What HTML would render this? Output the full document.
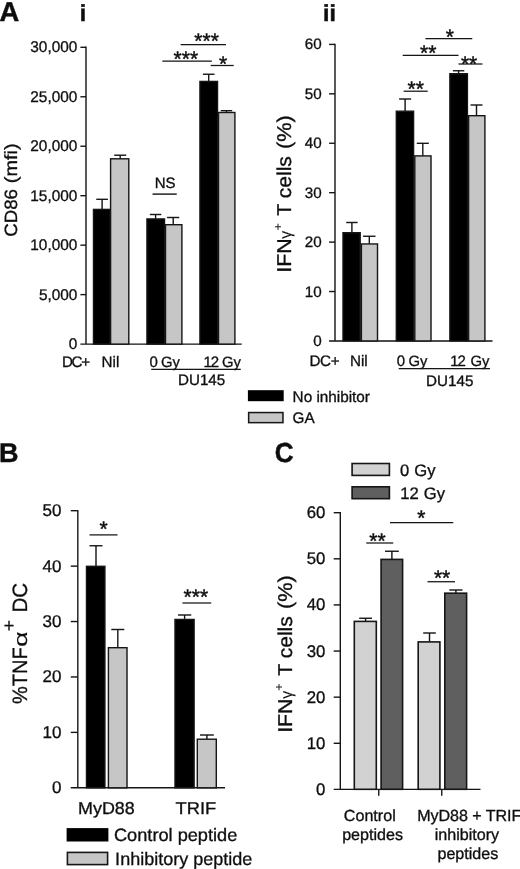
<!DOCTYPE html>
<html lang="en">
<head>
<meta charset="utf-8">
<title>Figure: CD86, IFN&gamma;+ T cells, TNF&alpha;+ DC bar charts</title>
<style>
html,body{margin:0;padding:0;background:#fff;}
body{width:520px;height:869px;overflow:hidden;}
svg{display:block;}
svg text{font-family:"Liberation Sans", sans-serif;fill:#111;stroke:#111;stroke-width:0.33px;font-variant-ligatures:none;font-kerning:none;}
svg text[font-weight=bold]{stroke-width:0.5px;}
</style>
</head>
<body>
<svg width="520" height="869" viewBox="0 0 520 869" shape-rendering="geometricPrecision" text-rendering="geometricPrecision">
<defs><filter id="soft" x="0" y="0" width="520" height="869" filterUnits="userSpaceOnUse"><feGaussianBlur stdDeviation="0.32"/></filter></defs>
<rect x="0" y="0" width="520" height="869" fill="#fff"/>
<g filter="url(#soft)">
<text x="-0.6" y="20.5" font-size="27.3" font-weight="bold">A</text>
<text x="79.8" y="20.7" font-size="23" font-weight="bold">i</text>
<text x="323" y="20.8" font-size="23" font-weight="bold">ii</text>
<text x="-0.95" y="461.5" font-size="27" font-weight="bold">B</text>
<text x="274.75" y="462.1" font-size="27.5" font-weight="bold" textLength="18.87" lengthAdjust="spacingAndGlyphs">C</text>
<line x1="86" y1="46.6" x2="86" y2="344.1" stroke="#141414" stroke-width="1.4"/>
<line x1="80.4" y1="344.1" x2="241.75" y2="344.1" stroke="#141414" stroke-width="1.4"/>
<text x="77.4" y="349" font-size="15.4" text-anchor="end">0</text>
<line x1="80.4" y1="294.63" x2="86" y2="294.63" stroke="#141414" stroke-width="1.4"/>
<text x="77.4" y="299.53" font-size="15.4" text-anchor="end">5,000</text>
<line x1="80.4" y1="245.17" x2="86" y2="245.17" stroke="#141414" stroke-width="1.4"/>
<text x="77.4" y="250.07" font-size="15.4" text-anchor="end">10,000</text>
<line x1="80.4" y1="195.7" x2="86" y2="195.7" stroke="#141414" stroke-width="1.4"/>
<text x="77.4" y="200.6" font-size="15.4" text-anchor="end">15,000</text>
<line x1="80.4" y1="146.23" x2="86" y2="146.23" stroke="#141414" stroke-width="1.4"/>
<text x="77.4" y="151.13" font-size="15.4" text-anchor="end">20,000</text>
<line x1="80.4" y1="96.77" x2="86" y2="96.77" stroke="#141414" stroke-width="1.4"/>
<text x="77.4" y="101.67" font-size="15.4" text-anchor="end">25,000</text>
<line x1="80.4" y1="47.3" x2="86" y2="47.3" stroke="#141414" stroke-width="1.4"/>
<text x="77.4" y="52.2" font-size="15.4" text-anchor="end">30,000</text>
<rect x="93.5" y="209.4" width="16.6" height="134.7" fill="#000" stroke="#141414" stroke-width="1.4"/>
<line x1="102.1" y1="209.2" x2="102.1" y2="199.3" stroke="#141414" stroke-width="1.4"/>
<line x1="96.3" y1="199.3" x2="107.9" y2="199.3" stroke="#141414" stroke-width="1.4"/>
<rect x="110.6" y="158.8" width="18.2" height="185.3" fill="#c6c6c6" stroke="#141414" stroke-width="1.4"/>
<line x1="120.2" y1="158.6" x2="120.2" y2="155.2" stroke="#141414" stroke-width="1.4"/>
<line x1="114.2" y1="155.2" x2="126.2" y2="155.2" stroke="#141414" stroke-width="1.4"/>
<rect x="146.95" y="218.95" width="17.55" height="125.15" fill="#000" stroke="#141414" stroke-width="1.4"/>
<line x1="155.6" y1="218.75" x2="155.6" y2="214.5" stroke="#141414" stroke-width="1.4"/>
<line x1="149.9" y1="214.5" x2="161.3" y2="214.5" stroke="#141414" stroke-width="1.4"/>
<rect x="165.5" y="224.7" width="16.4" height="119.4" fill="#c6c6c6" stroke="#141414" stroke-width="1.4"/>
<line x1="173.2" y1="224.5" x2="173.2" y2="217.5" stroke="#141414" stroke-width="1.4"/>
<line x1="167.1" y1="217.5" x2="179.3" y2="217.5" stroke="#141414" stroke-width="1.4"/>
<rect x="199.95" y="81.45" width="17.55" height="262.65" fill="#000" stroke="#141414" stroke-width="1.4"/>
<line x1="208.7" y1="81.25" x2="208.7" y2="74.25" stroke="#141414" stroke-width="1.4"/>
<line x1="202.9" y1="74.25" x2="214.5" y2="74.25" stroke="#141414" stroke-width="1.4"/>
<rect x="218.5" y="112.5" width="16.4" height="231.6" fill="#c6c6c6" stroke="#141414" stroke-width="1.4"/>
<line x1="226.5" y1="112.3" x2="226.5" y2="110.7" stroke="#141414" stroke-width="1.4"/>
<line x1="220.8" y1="110.7" x2="232.2" y2="110.7" stroke="#141414" stroke-width="1.4"/>
<line x1="180.6" y1="44.6" x2="226" y2="44.6" stroke="#141414" stroke-width="1.25"/>
<text x="206.6" y="48.46" font-size="21" text-anchor="middle" style="stroke-width:0.45px">***</text>
<line x1="162.3" y1="61" x2="211.8" y2="61" stroke="#141414" stroke-width="1.25"/>
<text x="185.8" y="65.76" font-size="21" text-anchor="middle" style="stroke-width:0.45px">***</text>
<line x1="210.7" y1="65.5" x2="233.7" y2="65.5" stroke="#141414" stroke-width="1.25"/>
<text x="223.1" y="71.06" font-size="21" text-anchor="middle" style="stroke-width:0.45px">*</text>
<text x="165.2" y="188.3" font-size="15" text-anchor="middle">NS</text>
<line x1="152.5" y1="194.1" x2="176.75" y2="194.1" stroke="#141414" stroke-width="1.4"/>
<text x="62" y="367" font-size="15.2" textLength="28" lengthAdjust="spacing">DC+</text>
<text x="101.6" y="367" font-size="15.2">Nil</text>
<text x="149.6" y="367" font-size="15">0</text>
<text x="160.9" y="367" font-size="14.8">Gy</text>
<text x="203.4" y="367" font-size="15" textLength="15.6" lengthAdjust="spacing">12</text>
<text x="222" y="367" font-size="14.8">Gy</text>
<line x1="151.25" y1="369.4" x2="240.75" y2="369.4" stroke="#141414" stroke-width="1.4"/>
<text x="201.6" y="384.6" font-size="15.2" text-anchor="middle">DU145</text>
<text x="17.3" y="236.75" font-size="17.8" textLength="47.77" lengthAdjust="spacingAndGlyphs" transform="rotate(-90 17.3 236.75)">CD86</text>
<text x="17.3" y="183.13" font-size="17.8" textLength="39.77" lengthAdjust="spacingAndGlyphs" transform="rotate(-90 17.3 183.13)">(mfi)</text>
<line x1="335" y1="43.7" x2="335" y2="340.95" stroke="#141414" stroke-width="1.4"/>
<line x1="329.1" y1="340.95" x2="492.5" y2="340.95" stroke="#141414" stroke-width="1.4"/>
<text x="321.6" y="345.95" font-size="15.2" text-anchor="end">0</text>
<line x1="329.1" y1="291.52" x2="335" y2="291.52" stroke="#141414" stroke-width="1.4"/>
<text x="321.6" y="296.52" font-size="15.2" text-anchor="end">10</text>
<line x1="329.1" y1="242.1" x2="335" y2="242.1" stroke="#141414" stroke-width="1.4"/>
<text x="321.6" y="247.1" font-size="15.2" text-anchor="end">20</text>
<line x1="329.1" y1="192.67" x2="335" y2="192.67" stroke="#141414" stroke-width="1.4"/>
<text x="321.6" y="197.67" font-size="15.2" text-anchor="end">30</text>
<line x1="329.1" y1="143.25" x2="335" y2="143.25" stroke="#141414" stroke-width="1.4"/>
<text x="321.6" y="148.25" font-size="15.2" text-anchor="end">40</text>
<line x1="329.1" y1="93.82" x2="335" y2="93.82" stroke="#141414" stroke-width="1.4"/>
<text x="321.6" y="98.82" font-size="15.2" text-anchor="end">50</text>
<line x1="329.1" y1="44.4" x2="335" y2="44.4" stroke="#141414" stroke-width="1.4"/>
<text x="321.6" y="49.4" font-size="15.2" text-anchor="end">60</text>
<rect x="343" y="232.7" width="17.2" height="108.25" fill="#000" stroke="#141414" stroke-width="1.4"/>
<line x1="351.9" y1="232.5" x2="351.9" y2="222.5" stroke="#141414" stroke-width="1.4"/>
<line x1="346.2" y1="222.5" x2="357.6" y2="222.5" stroke="#141414" stroke-width="1.4"/>
<rect x="361.4" y="243.95" width="16.1" height="97" fill="#c6c6c6" stroke="#141414" stroke-width="1.4"/>
<line x1="369.3" y1="243.75" x2="369.3" y2="236.25" stroke="#141414" stroke-width="1.4"/>
<line x1="363.1" y1="236.25" x2="375.5" y2="236.25" stroke="#141414" stroke-width="1.4"/>
<rect x="396.3" y="111.2" width="17.3" height="229.75" fill="#000" stroke="#141414" stroke-width="1.4"/>
<line x1="405.1" y1="111" x2="405.1" y2="99" stroke="#141414" stroke-width="1.4"/>
<line x1="399.1" y1="99" x2="411.1" y2="99" stroke="#141414" stroke-width="1.4"/>
<rect x="414.8" y="155.9" width="16.2" height="185.05" fill="#c6c6c6" stroke="#141414" stroke-width="1.4"/>
<line x1="422.8" y1="155.7" x2="422.8" y2="143.3" stroke="#141414" stroke-width="1.4"/>
<line x1="416.8" y1="143.3" x2="428.8" y2="143.3" stroke="#141414" stroke-width="1.4"/>
<rect x="449.9" y="73.7" width="17.5" height="267.25" fill="#000" stroke="#141414" stroke-width="1.4"/>
<line x1="458.6" y1="73.5" x2="458.6" y2="70.75" stroke="#141414" stroke-width="1.4"/>
<line x1="452.9" y1="70.75" x2="464.3" y2="70.75" stroke="#141414" stroke-width="1.4"/>
<rect x="468.6" y="115.7" width="16.3" height="225.25" fill="#c6c6c6" stroke="#141414" stroke-width="1.4"/>
<line x1="476.5" y1="115.5" x2="476.5" y2="105" stroke="#141414" stroke-width="1.4"/>
<line x1="470.5" y1="105" x2="482.5" y2="105" stroke="#141414" stroke-width="1.4"/>
<line x1="425.4" y1="38.65" x2="472.3" y2="38.65" stroke="#141414" stroke-width="1.25"/>
<text x="449.8" y="43.66" font-size="21" text-anchor="middle" style="stroke-width:0.45px">*</text>
<line x1="402.7" y1="55.4" x2="458.5" y2="55.4" stroke="#141414" stroke-width="1.25"/>
<text x="428.2" y="59.56" font-size="21" text-anchor="middle" style="stroke-width:0.45px">**</text>
<line x1="458.5" y1="64" x2="482.5" y2="64" stroke="#141414" stroke-width="1.25"/>
<text x="469.1" y="70.96" font-size="21" text-anchor="middle" style="stroke-width:0.45px">**</text>
<line x1="403.7" y1="91.2" x2="427.7" y2="91.2" stroke="#141414" stroke-width="1.25"/>
<text x="415.7" y="96.16" font-size="21" text-anchor="middle" style="stroke-width:0.45px">**</text>
<text x="309.5" y="366.3" font-size="15.2" textLength="30" lengthAdjust="spacing">DC+</text>
<text x="350" y="366.3" font-size="15.2">Nil</text>
<text x="396.7" y="366.3" font-size="15">0</text>
<text x="408.6" y="366.3" font-size="14.8">Gy</text>
<text x="450.2" y="366.3" font-size="15" textLength="15.6" lengthAdjust="spacing">12</text>
<text x="470.6" y="366.3" font-size="14.8">Gy</text>
<line x1="398.75" y1="368.6" x2="490" y2="368.6" stroke="#141414" stroke-width="1.4"/>
<text x="449.7" y="385.7" font-size="15.2" text-anchor="middle">DU145</text>
<text x="290.8" y="272.77" font-size="20" textLength="34.3" lengthAdjust="spacingAndGlyphs" transform="rotate(-90 290.8 272.77)">IFN</text>
<text x="290.8" y="238.75" font-size="16.5" textLength="7.91" lengthAdjust="spacingAndGlyphs" transform="rotate(-90 290.8 238.75)" style="stroke-width:0.1px">γ</text>
<text x="282.2" y="230.52" font-size="12" textLength="7.45" lengthAdjust="spacingAndGlyphs" transform="rotate(-90 282.2 230.52)" style="stroke-width:0.1px">+</text>
<text x="290.8" y="215.64" font-size="20" textLength="11.99" lengthAdjust="spacingAndGlyphs" transform="rotate(-90 290.8 215.64)">T</text>
<text x="290.8" y="198.19" font-size="20" textLength="42.05" lengthAdjust="spacingAndGlyphs" transform="rotate(-90 290.8 198.19)">cells</text>
<text x="290.8" y="148.95" font-size="20" textLength="33.8" lengthAdjust="spacingAndGlyphs" transform="rotate(-90 290.8 148.95)">(%)</text>
<rect x="247.9" y="390.2" width="35.8" height="11" fill="#000"/>
<rect x="248.65" y="412.55" width="34.3" height="10.1" fill="#c6c6c6" stroke="#141414" stroke-width="1.5"/>
<text x="292.6" y="401.5" font-size="15.3">No inhibitor</text>
<text x="292.6" y="422.7" font-size="15.3">GA</text>
<line x1="77.8" y1="510" x2="77.8" y2="787.8" stroke="#141414" stroke-width="1.4"/>
<line x1="70.8" y1="787.8" x2="225" y2="787.8" stroke="#141414" stroke-width="1.4"/>
<text x="61.4" y="793.2" font-size="17" text-anchor="end">0</text>
<line x1="70.8" y1="732.38" x2="77.8" y2="732.38" stroke="#141414" stroke-width="1.4"/>
<text x="61.4" y="737.78" font-size="17" text-anchor="end">10</text>
<line x1="70.8" y1="676.96" x2="77.8" y2="676.96" stroke="#141414" stroke-width="1.4"/>
<text x="61.4" y="682.36" font-size="17" text-anchor="end">20</text>
<line x1="70.8" y1="621.54" x2="77.8" y2="621.54" stroke="#141414" stroke-width="1.4"/>
<text x="61.4" y="626.94" font-size="17" text-anchor="end">30</text>
<line x1="70.8" y1="566.12" x2="77.8" y2="566.12" stroke="#141414" stroke-width="1.4"/>
<text x="61.4" y="571.52" font-size="17" text-anchor="end">40</text>
<line x1="70.8" y1="510.7" x2="77.8" y2="510.7" stroke="#141414" stroke-width="1.4"/>
<text x="61.4" y="516.1" font-size="17" text-anchor="end">50</text>
<rect x="86.5" y="566.3" width="18.4" height="221.5" fill="#000" stroke="#141414" stroke-width="1.4"/>
<line x1="96" y1="566.1" x2="96" y2="545.75" stroke="#141414" stroke-width="1.4"/>
<line x1="89.5" y1="545.75" x2="102.5" y2="545.75" stroke="#141414" stroke-width="1.4"/>
<rect x="108.4" y="647.7" width="18.6" height="140.1" fill="#c6c6c6" stroke="#141414" stroke-width="1.4"/>
<line x1="117.8" y1="647.5" x2="117.8" y2="629.5" stroke="#141414" stroke-width="1.4"/>
<line x1="111.3" y1="629.5" x2="124.3" y2="629.5" stroke="#141414" stroke-width="1.4"/>
<rect x="175" y="619.45" width="19.1" height="168.35" fill="#000" stroke="#141414" stroke-width="1.4"/>
<line x1="184.6" y1="619.25" x2="184.6" y2="615" stroke="#141414" stroke-width="1.4"/>
<line x1="178" y1="615" x2="191.2" y2="615" stroke="#141414" stroke-width="1.4"/>
<rect x="197.3" y="739.2" width="19" height="48.6" fill="#c6c6c6" stroke="#141414" stroke-width="1.4"/>
<line x1="206.9" y1="739" x2="206.9" y2="735" stroke="#141414" stroke-width="1.4"/>
<line x1="200" y1="735" x2="213.8" y2="735" stroke="#141414" stroke-width="1.4"/>
<line x1="89.5" y1="534.9" x2="117.5" y2="534.9" stroke="#141414" stroke-width="1.25"/>
<text x="103.5" y="536.26" font-size="21" text-anchor="middle" style="stroke-width:0.45px">*</text>
<line x1="182.4" y1="603" x2="211.2" y2="603" stroke="#141414" stroke-width="1.25"/>
<text x="195.8" y="604.06" font-size="21" text-anchor="middle" style="stroke-width:0.45px">***</text>
<text x="78.03" y="814.3" font-size="17.2" textLength="56.75" lengthAdjust="spacingAndGlyphs">MyD88</text>
<text x="175.59" y="814.3" font-size="17.2" textLength="40.64" lengthAdjust="spacingAndGlyphs">TRIF</text>
<text x="26.9" y="704.01" font-size="20.8" textLength="56.72" lengthAdjust="spacingAndGlyphs" transform="rotate(-90 26.9 704.01)">%TNF</text>
<text x="26.9" y="646.94" font-size="18.6" textLength="15.73" lengthAdjust="spacingAndGlyphs" transform="rotate(-90 26.9 646.94)" style="stroke-width:0.1px">α</text>
<text x="14.6" y="631.14" font-size="18" textLength="11.3" lengthAdjust="spacingAndGlyphs" transform="rotate(-90 14.6 631.14)" style="stroke-width:0.3px">+</text>
<text x="26.9" y="612.48" font-size="20.8" textLength="29.67" lengthAdjust="spacingAndGlyphs" transform="rotate(-90 26.9 612.48)">DC</text>
<rect x="66.6" y="828.1" width="41.8" height="13.4" fill="#000"/>
<rect x="67.4" y="852.4" width="40.2" height="12.2" fill="#c6c6c6" stroke="#141414" stroke-width="1.6"/>
<text x="113.98" y="841.3" font-size="17.9" textLength="123.33" lengthAdjust="spacingAndGlyphs">Control peptide</text>
<text x="115.14" y="864.8" font-size="17.9" textLength="137.16" lengthAdjust="spacingAndGlyphs">Inhibitory peptide</text>
<line x1="340.3" y1="512" x2="340.3" y2="789.4" stroke="#141414" stroke-width="1.4"/>
<line x1="333.7" y1="789.4" x2="480.5" y2="789.4" stroke="#141414" stroke-width="1.4"/>
<text x="325.4" y="794.9" font-size="16.8" text-anchor="end">0</text>
<line x1="333.7" y1="743.28" x2="340.3" y2="743.28" stroke="#141414" stroke-width="1.4"/>
<text x="325.4" y="748.78" font-size="16.8" text-anchor="end">10</text>
<line x1="333.7" y1="697.17" x2="340.3" y2="697.17" stroke="#141414" stroke-width="1.4"/>
<text x="325.4" y="702.67" font-size="16.8" text-anchor="end">20</text>
<line x1="333.7" y1="651.05" x2="340.3" y2="651.05" stroke="#141414" stroke-width="1.4"/>
<text x="325.4" y="656.55" font-size="16.8" text-anchor="end">30</text>
<line x1="333.7" y1="604.93" x2="340.3" y2="604.93" stroke="#141414" stroke-width="1.4"/>
<text x="325.4" y="610.43" font-size="16.8" text-anchor="end">40</text>
<line x1="333.7" y1="558.82" x2="340.3" y2="558.82" stroke="#141414" stroke-width="1.4"/>
<text x="325.4" y="564.32" font-size="16.8" text-anchor="end">50</text>
<line x1="333.7" y1="512.7" x2="340.3" y2="512.7" stroke="#141414" stroke-width="1.4"/>
<text x="325.4" y="518.2" font-size="16.8" text-anchor="end">60</text>
<line x1="378.75" y1="789.4" x2="378.75" y2="795.7" stroke="#141414" stroke-width="1.4"/>
<line x1="441.75" y1="789.4" x2="441.75" y2="795.7" stroke="#141414" stroke-width="1.4"/>
<rect x="354.3" y="621.4" width="22" height="167.9" fill="#d2d2d2" stroke="#141414" stroke-width="1.6"/>
<line x1="365.6" y1="621.25" x2="365.6" y2="618.25" stroke="#141414" stroke-width="1.4"/>
<line x1="359.2" y1="618.25" x2="372" y2="618.25" stroke="#141414" stroke-width="1.4"/>
<rect x="381.1" y="559.4" width="21.5" height="229.9" fill="#5e5e5e" stroke="#141414" stroke-width="1.6"/>
<line x1="391.9" y1="559.25" x2="391.9" y2="551.25" stroke="#141414" stroke-width="1.4"/>
<line x1="385" y1="551.25" x2="398.8" y2="551.25" stroke="#141414" stroke-width="1.4"/>
<rect x="418.2" y="641.9" width="21.7" height="147.4" fill="#d2d2d2" stroke="#141414" stroke-width="1.6"/>
<line x1="429.5" y1="641.75" x2="429.5" y2="633" stroke="#141414" stroke-width="1.4"/>
<line x1="423.2" y1="633" x2="435.8" y2="633" stroke="#141414" stroke-width="1.4"/>
<rect x="444.8" y="593.2" width="21.8" height="196.1" fill="#5e5e5e" stroke="#141414" stroke-width="1.6"/>
<line x1="455.9" y1="593" x2="455.9" y2="590" stroke="#141414" stroke-width="1.4"/>
<line x1="449.3" y1="590" x2="462.5" y2="590" stroke="#141414" stroke-width="1.4"/>
<line x1="390" y1="522.5" x2="453.25" y2="522.5" stroke="#141414" stroke-width="1.25"/>
<text x="421.25" y="524.51" font-size="21" text-anchor="middle" style="stroke-width:0.45px">*</text>
<line x1="366.25" y1="543" x2="393.25" y2="543" stroke="#141414" stroke-width="1.25"/>
<text x="377.5" y="547.86" font-size="21" text-anchor="middle" style="stroke-width:0.45px">**</text>
<line x1="427.5" y1="581.75" x2="455" y2="581.75" stroke="#141414" stroke-width="1.25"/>
<text x="442.1" y="584.76" font-size="21" text-anchor="middle" style="stroke-width:0.45px">**</text>
<rect x="352.1" y="463.5" width="37.3" height="11.9" fill="#d2d2d2" stroke="#141414" stroke-width="1.6"/>
<rect x="352.1" y="486.8" width="37.3" height="11.9" fill="#5e5e5e" stroke="#141414" stroke-width="1.6"/>
<text x="400" y="475.6" font-size="16.6" textLength="35.5" lengthAdjust="spacing">0 Gy</text>
<text x="400.2" y="498.8" font-size="16.6" textLength="44.8" lengthAdjust="spacing">12 Gy</text>
<text x="369.8" y="820.5" font-size="16.1" text-anchor="middle">Control</text>
<text x="372.6" y="840" font-size="16.1" text-anchor="middle">peptides</text>
<text x="417.3" y="820.5" font-size="16.1" textLength="104" lengthAdjust="spacing">MyD88 + TRIF</text>
<text x="466.9" y="840" font-size="16.1" text-anchor="middle">inhibitory</text>
<text x="467.9" y="859.3" font-size="16.1" text-anchor="middle">peptides</text>
<text x="291.8" y="732.87" font-size="20" textLength="34.3" lengthAdjust="spacingAndGlyphs" transform="rotate(-90 291.8 732.87)">IFN</text>
<text x="291.8" y="698.85" font-size="16.5" textLength="7.91" lengthAdjust="spacingAndGlyphs" transform="rotate(-90 291.8 698.85)" style="stroke-width:0.1px">γ</text>
<text x="283.2" y="690.62" font-size="12" textLength="7.45" lengthAdjust="spacingAndGlyphs" transform="rotate(-90 283.2 690.62)" style="stroke-width:0.1px">+</text>
<text x="291.8" y="675.74" font-size="20" textLength="11.99" lengthAdjust="spacingAndGlyphs" transform="rotate(-90 291.8 675.74)">T</text>
<text x="291.8" y="658.29" font-size="20" textLength="42.05" lengthAdjust="spacingAndGlyphs" transform="rotate(-90 291.8 658.29)">cells</text>
<text x="291.8" y="609.05" font-size="20" textLength="33.8" lengthAdjust="spacingAndGlyphs" transform="rotate(-90 291.8 609.05)">(%)</text>
</g>
</svg>
</body>
</html>
